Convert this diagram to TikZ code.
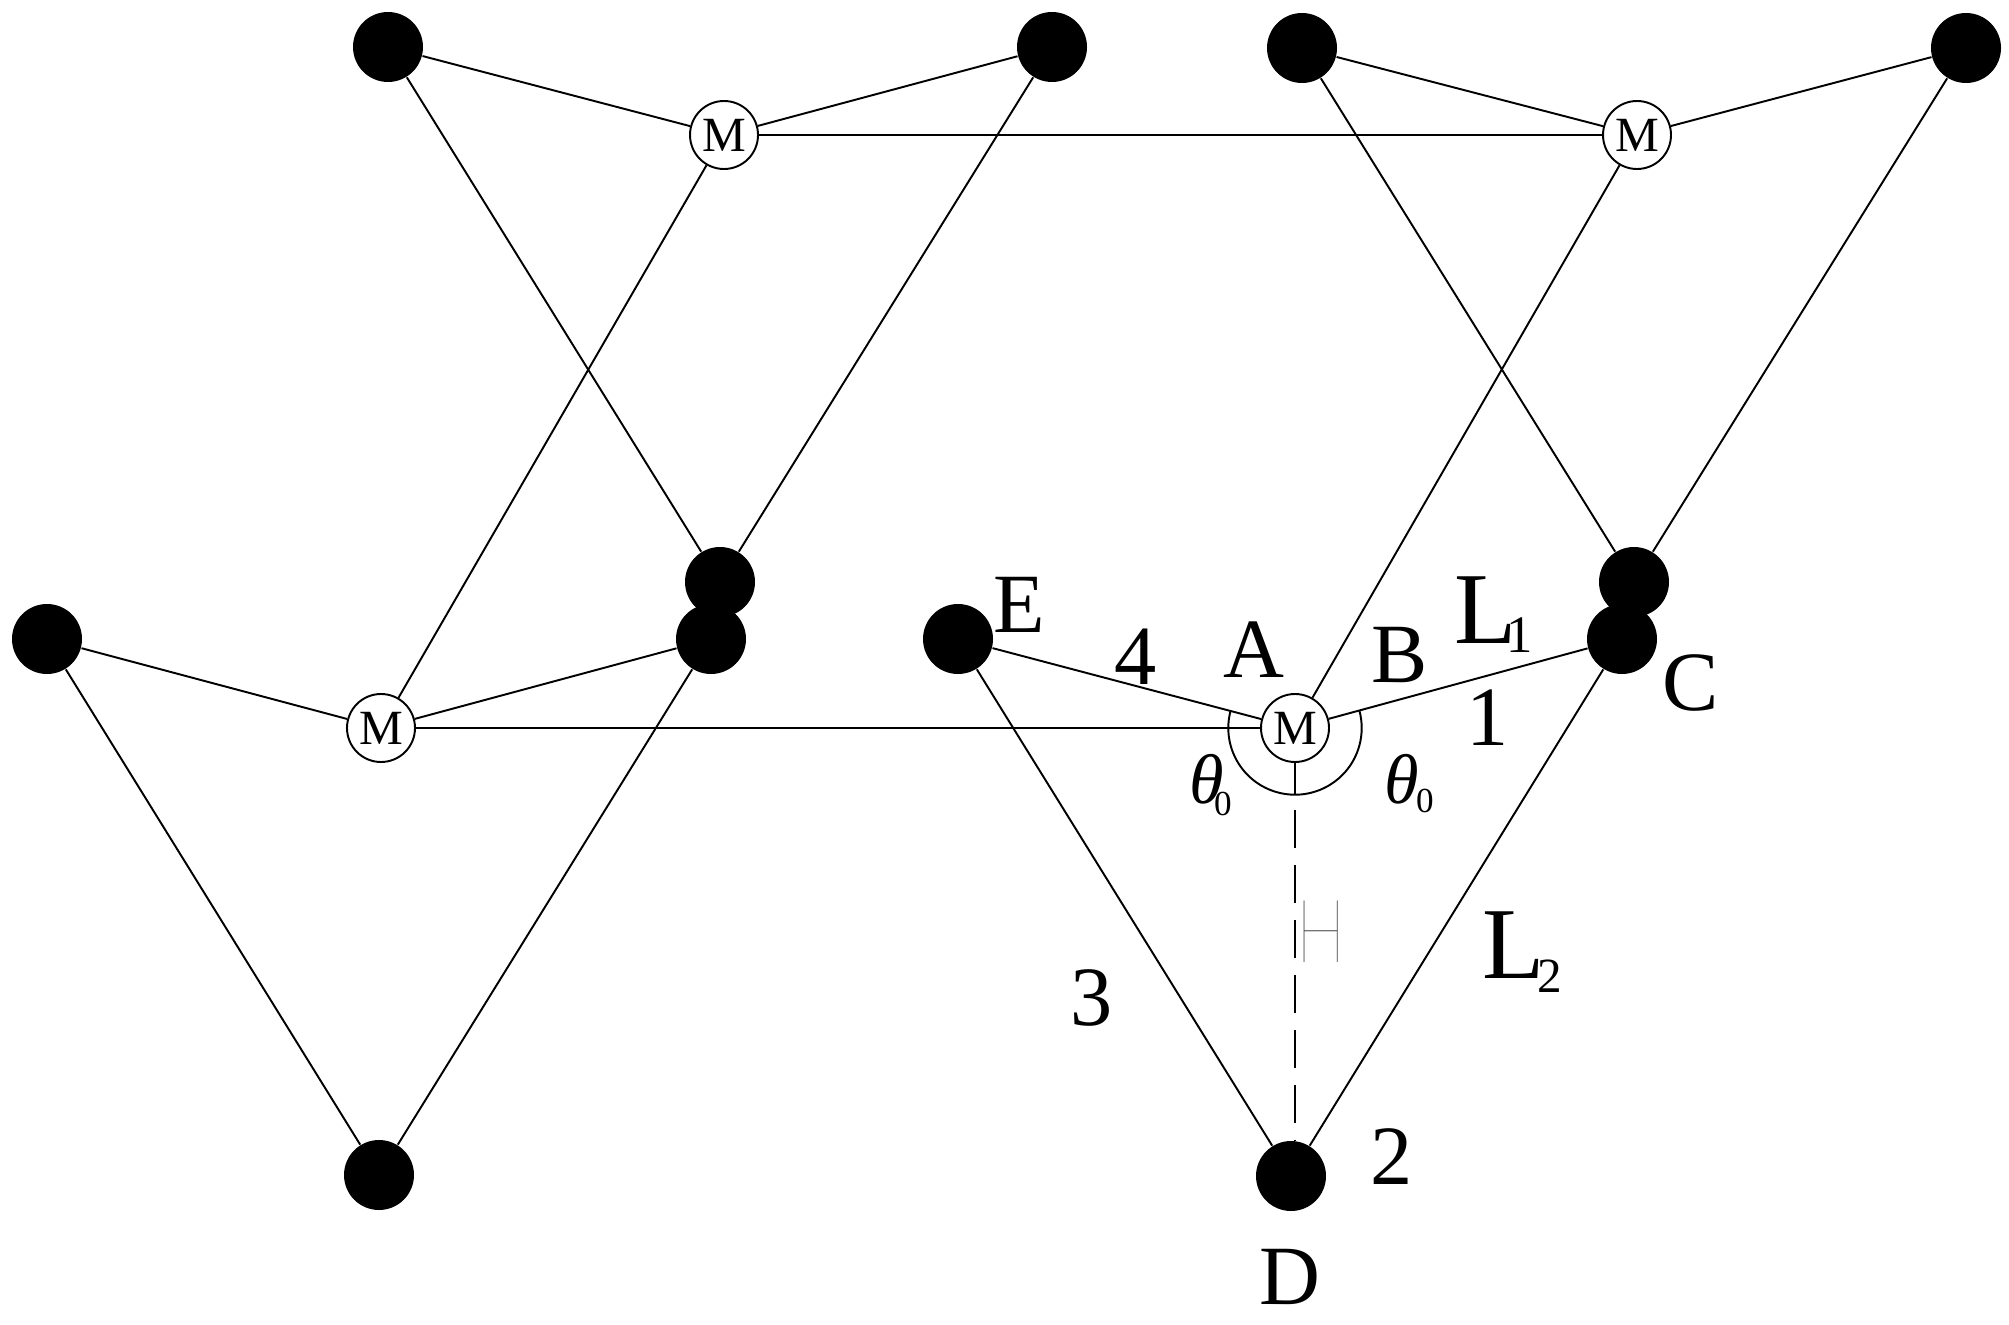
\documentclass[tikz,border=0pt]{standalone}
\usepackage{fontspec}
\setmainfont{Liberation Serif}
\newfontfamily\hairfont{Lato Hairline}
\usepackage{tikz}
\begin{document}
\begin{tikzpicture}[
        atom/.style={circle, fill=black, minimum size=.7cm, inner sep=0pt},
        metal/.style={circle, draw, fill=white, line width=.55pt, minimum size=.68cm, inner sep=0pt, font=\fontsize{14}{16}\selectfont},
        bond/.style={line width=.55pt},
        lab/.style={inner sep=0pt, font=\fontsize{24}{29}\selectfont},
        big/.style={inner sep=0pt, anchor=base west, font=\fontsize{29}{34}\selectfont},
        ang/.style={inner sep=0pt, anchor=base west, font=\fontsize{20}{24}\selectfont}
    ]
        \useasboundingbox (0,0) rectangle (20.09,13.24);

        \node[metal] (M1) at (7.24,11.89) {M};
        \node[metal] (M2) at (16.37,11.89) {M};
        \node[metal] (M3) at (3.81,5.96) {M};
        \node[metal] (M4) at (12.95,5.96) {M};

        \node[atom] (T1) at (3.88,12.77) {};
        \node[atom] (T2) at (10.52,12.77) {};
        \node[atom] (T3) at (13.02,12.76) {};
        \node[atom] (T4) at (19.66,12.76) {};
        \node[atom] (U1) at (7.20,7.42) {};
        \node[atom] (U2) at (16.34,7.42) {};
        \node[atom] (L1) at (0.47,6.85) {};
        \node[atom] (L2) at (7.11,6.85) {};
        \node[atom] (E) at (9.58,6.85) {};
        \node[atom] (C) at (16.22,6.85) {};
        \node[atom] (B1) at (3.79,1.49) {};
        \node[atom] (D) at (12.91,1.48) {};

        \draw[bond] (T1) -- (M1);
        \draw[bond] (T2) -- (M1);
        \draw[bond] (T1) -- (U1);
        \draw[bond] (T2) -- (U1);
        \draw[bond] (T3) -- (M2);
        \draw[bond] (T4) -- (M2);
        \draw[bond] (T3) -- (U2);
        \draw[bond] (T4) -- (U2);
        \draw[bond] (M1) -- (M2);
        \draw[bond] (M1) -- (M3);
        \draw[bond] (M2) -- (M4);
        \draw[bond] (M3) -- (M4);
        \draw[bond] (L1) -- (M3);
        \draw[bond] (L2) -- (M3);
        \draw[bond] (L1) -- (B1);
        \draw[bond] (L2) -- (B1);
        \draw[bond] (E) -- (M4);
        \draw[bond] (C) -- (M4);
        \draw[bond] (E) -- (D);
        \draw[bond] (C) -- (D);

        \coordinate (arcend) at (12.95,5.293);
        \coordinate (dashtop) at (12.95,5.14);
        \coordinate (dashend) at (12.95,1.83);
        \draw[bond] (M4) -- (arcend);
        \draw[bond] (M4.center) ++(165:.667) arc[start angle=165, end angle=375, radius=.667];
        \draw[bond, dash pattern=on .38cm off .17cm] (dashtop) -- (dashend);

        \node[lab] (labE) at (10.19,7.19) {E};
        \node[lab] (labfour) at (11.36,6.67) {4};
        \node[lab] (labA) at (12.54,6.74) {A};
        \node[lab] (labB) at (14.00,6.69) {B};
        \node[lab] (labC) at (16.91,6.41) {C};
        \node[lab] (labone) at (14.88,6.06) {1};
        \node[lab] (labthree) at (10.92,3.26) {3};
        \node[lab] (labtwo) at (13.92,1.67) {2};
        \node[lab] (labD) at (12.90,.47) {D};
        \node[big] (labLone) at (14.54,6.81) {L\kern-.1cm\raisebox{-.09cm}{\fontsize{15}{18}\selectfont 1}};
        \node[big] (labLtwo) at (14.82,3.46) {L\kern-.07cm\raisebox{-.14cm}{\fontsize{14}{17}\selectfont 2}};
        \node[ang] (thetaleft) at (11.89,5.21) {\textit{θ}\kern-.1cm\raisebox{-.12cm}{\fontsize{10}{12}\selectfont 0}};
        \node[ang] (thetaright) at (13.84,5.21) {\textit{θ}\kern-.03cm\raisebox{-.09cm}{\fontsize{10}{12}\selectfont 0}};
        \node[inner sep=0pt, text=black!75, font=\hairfont\fontsize{25}{30}\selectfont, xscale=.75] (labH) at (13.21,3.92) {H};
    \end{tikzpicture}
\end{document}
